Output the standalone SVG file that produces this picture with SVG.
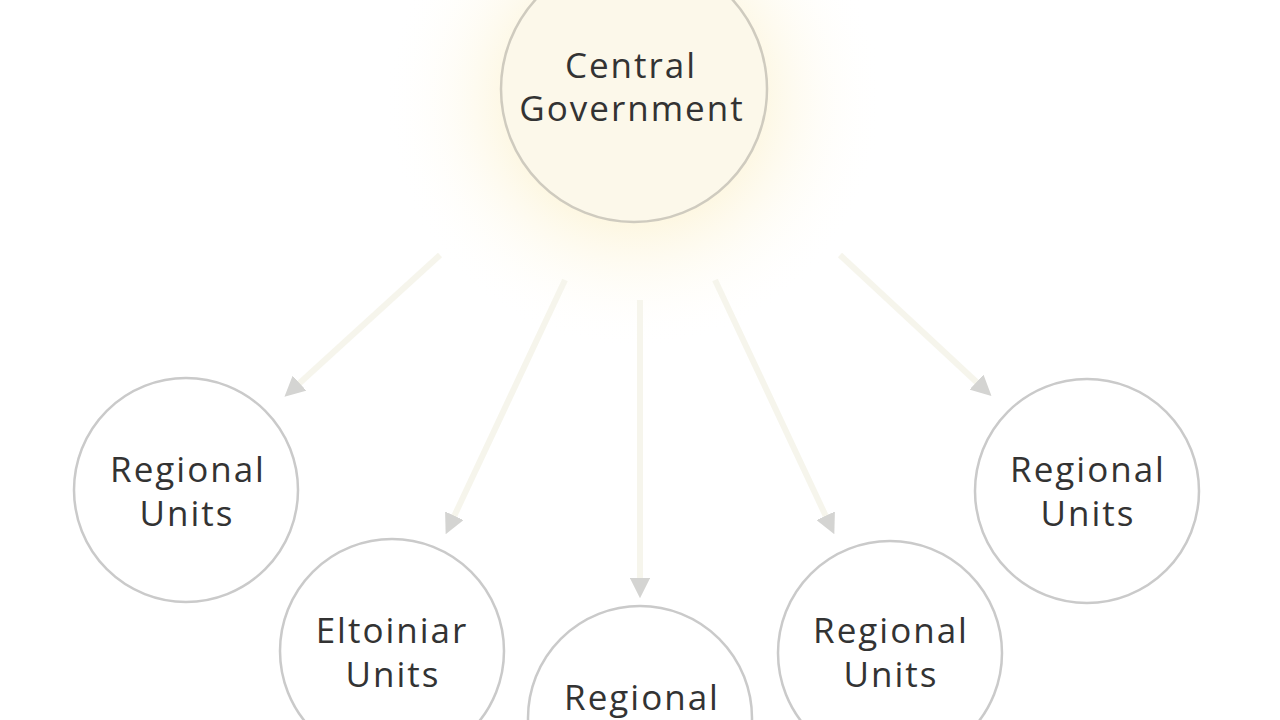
<svg xmlns="http://www.w3.org/2000/svg" width="1280" height="720" viewBox="0 0 1280 720">
<defs>
<radialGradient id="glow" cx="634" cy="100" r="250" gradientUnits="userSpaceOnUse">
<stop offset="0" stop-color="#fbeec0" stop-opacity="0.9"/>
<stop offset="0.5" stop-color="#fcf2d0" stop-opacity="0.6"/>
<stop offset="1" stop-color="#ffffff" stop-opacity="0"/>
</radialGradient>
<marker id="ah" viewBox="0 0 10 10" refX="5" refY="5" markerWidth="3.4" markerHeight="3.4" orient="auto" markerUnits="strokeWidth">
<path d="M0,0 L10,5 L0,10 z" fill="#d4d4d2"/>
</marker>
<style>
.node{fill:#ffffff;stroke:#cacaca;stroke-width:2.5}
.lbl{font-family:"Open Sans","Liberation Sans",sans-serif;font-size:35px;fill:#333333;text-anchor:middle;letter-spacing:2px}
.con{stroke:#f6f5ec;stroke-width:6;fill:none;marker-end:url(#ah)}
</style>
</defs>
<rect width="1280" height="720" fill="#ffffff"/>
<ellipse cx="634" cy="100" rx="270" ry="250" fill="url(#glow)"/>
<g id="connectors">
<line class="con" x1="440" y1="255" x2="292" y2="390"/>
<line class="con" x1="565" y1="280" x2="450" y2="525"/>
<line class="con" x1="640" y1="300" x2="640" y2="588"/>
<line class="con" x1="715" y1="280" x2="830" y2="525"/>
<line class="con" x1="840" y1="255" x2="984" y2="389"/>
</g>
<g id="central">
<circle cx="634" cy="89" r="133" fill="#fcf8ea" stroke="#cfcbbf" stroke-width="2.5"/>
<text class="lbl" x="631" y="78">Central</text>
<text class="lbl" x="632" y="121">Government</text>
</g>
<g id="unit1">
<circle class="node" cx="186" cy="490" r="112"/>
<text class="lbl" x="188" y="482">Regional</text>
<text class="lbl" x="187" y="526">Units</text>
</g>
<g id="unit2">
<circle class="node" cx="392" cy="651" r="112"/>
<text class="lbl" x="392" y="643">Eltoiniar</text>
<text class="lbl" x="393" y="687">Units</text>
</g>
<g id="unit3">
<circle class="node" cx="640" cy="718" r="112"/>
<text class="lbl" x="642" y="710">Regional</text>
</g>
<g id="unit4">
<circle class="node" cx="890" cy="653" r="112"/>
<text class="lbl" x="891" y="643">Regional</text>
<text class="lbl" x="891" y="687">Units</text>
</g>
<g id="unit5">
<circle class="node" cx="1087" cy="491" r="112"/>
<text class="lbl" x="1088" y="482">Regional</text>
<text class="lbl" x="1088" y="526">Units</text>
</g>
</svg>
